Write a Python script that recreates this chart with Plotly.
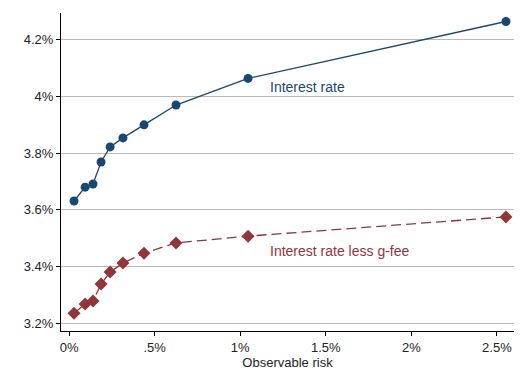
import plotly.graph_objects as go

# observable risk (%) and rates (%)
risk = [0.029, 0.094, 0.14, 0.187, 0.24, 0.315, 0.438, 0.625, 1.046, 2.553]
interest_rate = [3.631, 3.680, 3.691, 3.769, 3.822, 3.854, 3.900, 3.970, 4.064, 4.265]
rate_less_gfee = [3.235, 3.267, 3.278, 3.338, 3.380, 3.412, 3.447, 3.483, 3.507, 3.575]

x_ticks = [0, 0.5, 1, 1.5, 2, 2.5]
x_labels = ["0%", ".5%", "1%", "1.5%", "2%", "2.5%"]
y_ticks = [3.2, 3.4, 3.6, 3.8, 4.0, 4.2]
y_labels = ["3.2%", "3.4%", "3.6%", "3.8%", "4%", "4.2%"]

blue = "#1a476f"
red = "#90353b"

fig = go.Figure()
fig.add_trace(go.Scatter(
    x=risk, y=interest_rate, mode="lines+markers", name="Interest rate",
    line=dict(color=blue, width=1.3),
    marker=dict(symbol="circle", size=9, color=blue),
))
fig.add_trace(go.Scatter(
    x=risk, y=rate_less_gfee, mode="lines+markers", name="Interest rate less g-fee",
    line=dict(color=red, width=1.3, dash="10px,5px"),
    marker=dict(symbol="diamond", size=10, color=red),
))

fig.add_annotation(x=1.165, y=4.033, text="Interest rate", showarrow=False,
                   xanchor="left", font=dict(color=blue, size=14))
fig.add_annotation(x=1.165, y=3.455, text="Interest rate less g-fee", showarrow=False,
                   xanchor="left", font=dict(color=red, size=14))

# page body adds an 8px margin, so the figure is 8px smaller each way
fig.update_layout(
    width=520, height=376,
    margin=dict(l=53, r=14, t=5, b=53),
    plot_bgcolor="white", paper_bgcolor="white",
    showlegend=False,
    font=dict(family="Liberation Sans, Arial, sans-serif", size=13, color="#222"),
    xaxis=dict(
        range=[-0.047, 2.6], tickvals=x_ticks, ticktext=x_labels,
        showgrid=False, zeroline=False, showline=True, linecolor="black", linewidth=1,
        ticks="outside", ticklen=4, tickcolor="black",
        title=dict(text="Observable risk", standoff=0, font=dict(size=13)),
    ),
    yaxis=dict(
        range=[3.172, 4.295], tickvals=y_ticks, ticktext=y_labels,
        showgrid=True, gridcolor="#bbbbbb", gridwidth=1, zeroline=False,
        showline=True, linecolor="black", linewidth=1,
        ticks="outside", ticklen=4, tickcolor="black",
    ),
)

fig.write_html("out.html")
